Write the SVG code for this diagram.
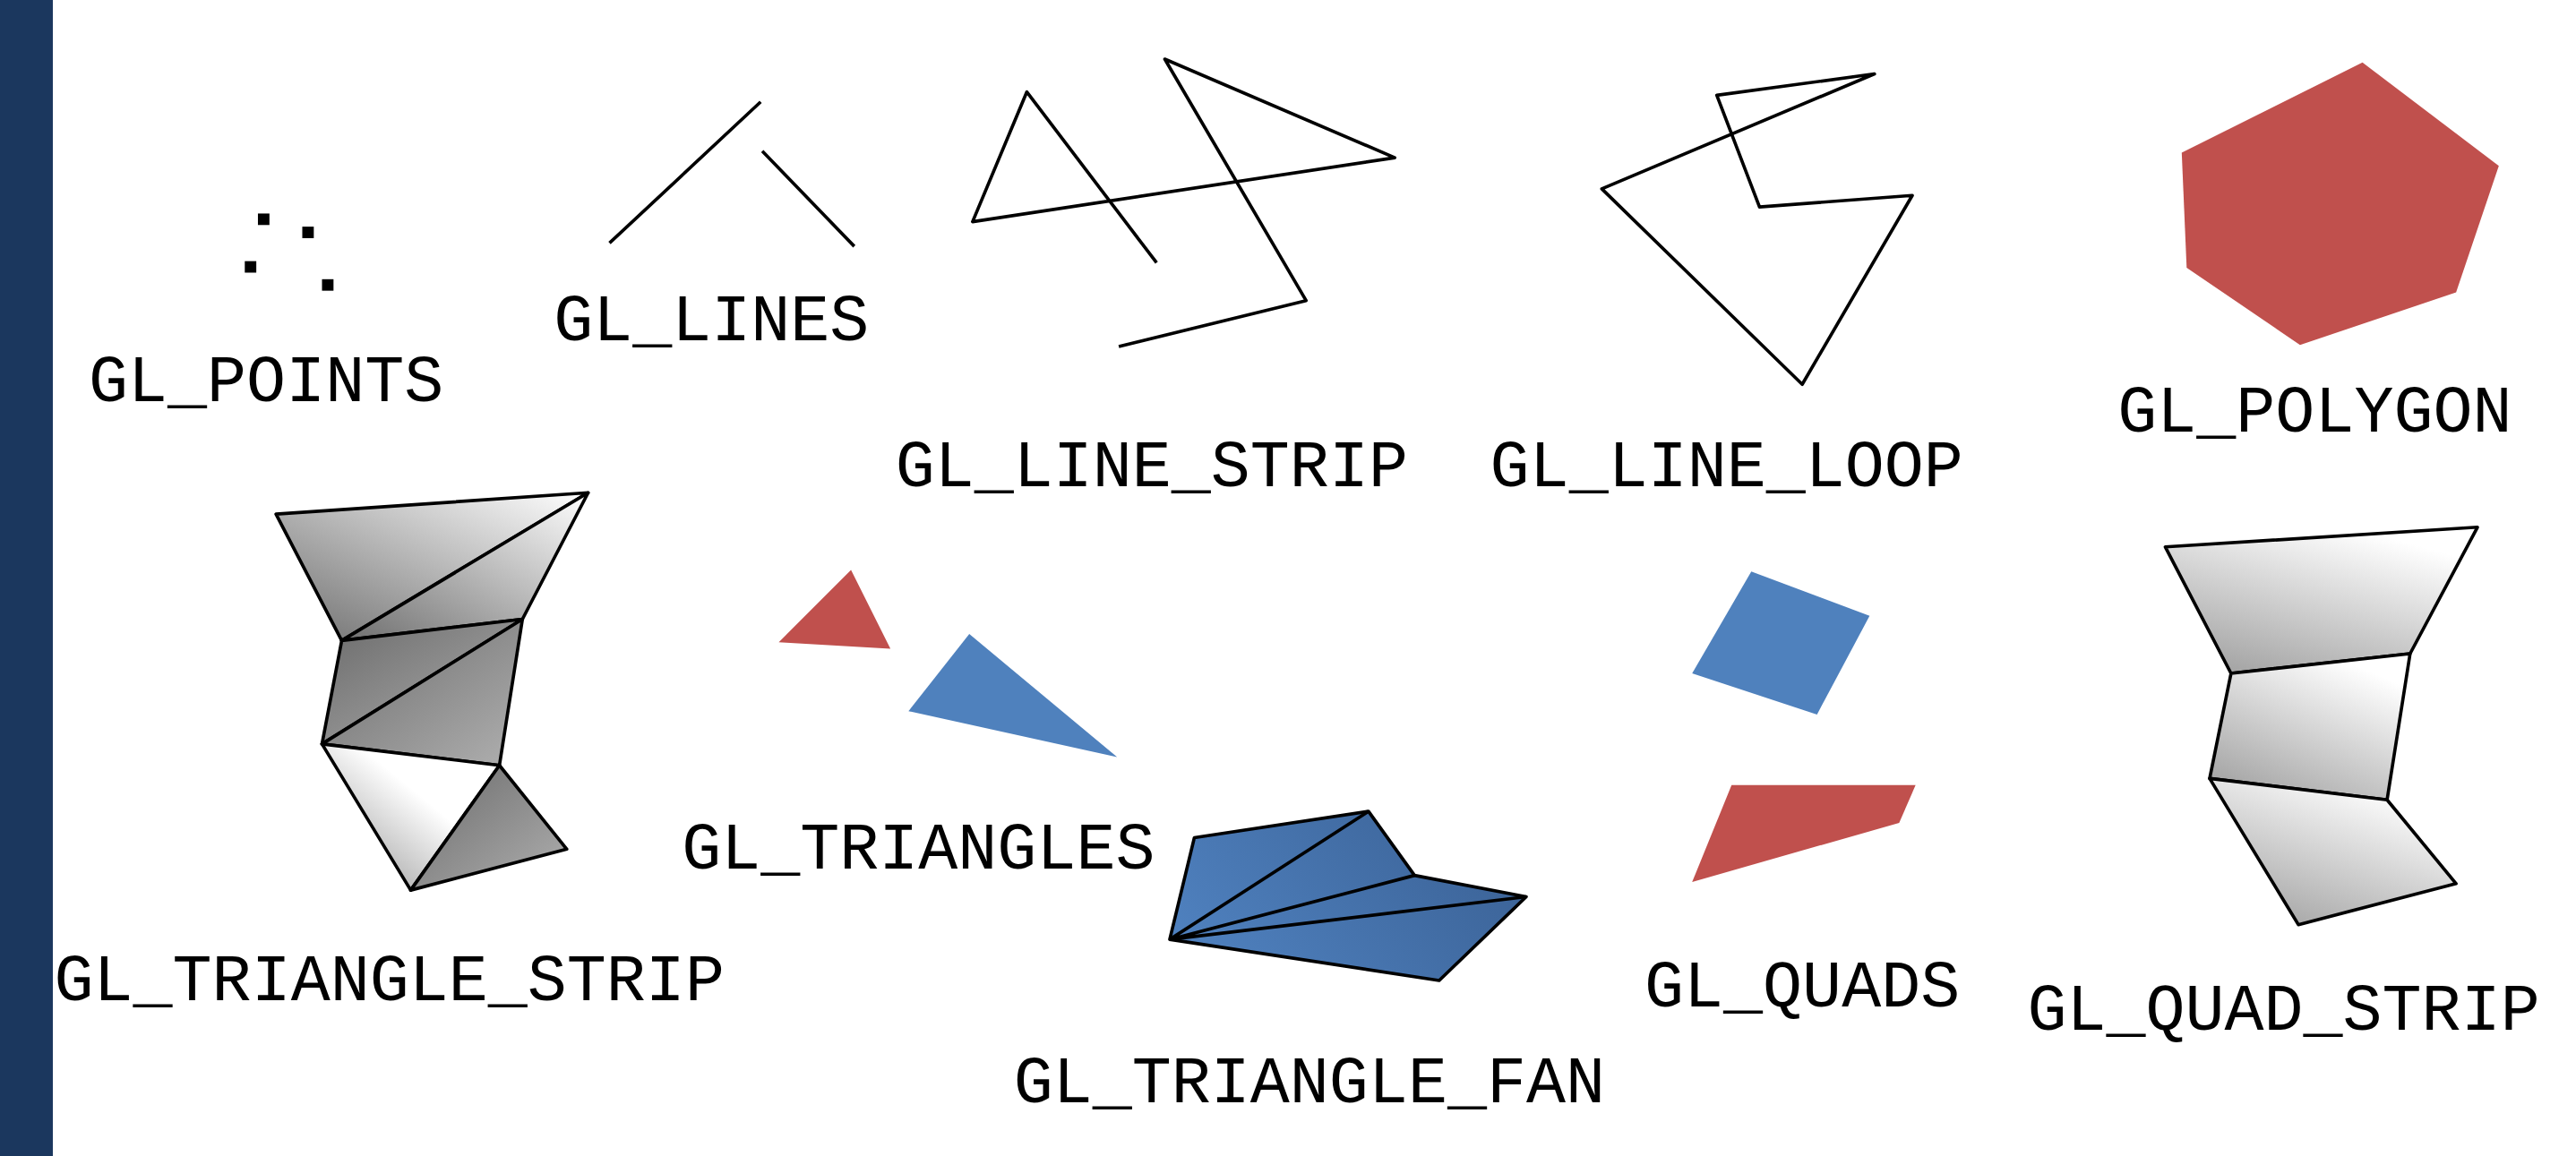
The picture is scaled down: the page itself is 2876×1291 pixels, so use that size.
<svg xmlns="http://www.w3.org/2000/svg" width="2876" height="1291" viewBox="0 0 2876 1291">
<style>
.t{font-family:"Liberation Mono","Courier New",monospace;font-size:40px;fill:#000}
.s{fill:none;stroke:#000;stroke-width:2;stroke-linejoin:round}
.f{stroke:#000;stroke-width:2;stroke-linejoin:round}
</style>
<defs>
<linearGradient id="g1" x1="0" y1="1" x2="1" y2="0"><stop offset="0" stop-color="#6e6e6e"/><stop offset="1" stop-color="#ffffff"/></linearGradient>
<linearGradient id="g2" x1="0" y1="0" x2="1" y2="1"><stop offset="0" stop-color="#6a6a6a"/><stop offset="1" stop-color="#b0b0b0"/></linearGradient>
<linearGradient id="g3" x1="0" y1="1" x2="1" y2="0"><stop offset="0" stop-color="#8a8a8a"/><stop offset="0.6" stop-color="#ffffff"/></linearGradient>
<linearGradient id="gf" x1="0" y1="0.7" x2="1" y2="0.3"><stop offset="0" stop-color="#4f81bf"/><stop offset="1" stop-color="#3b6296"/></linearGradient>
<linearGradient id="gq" x1="0" y1="1" x2="0.6" y2="0"><stop offset="0" stop-color="#9a9a9a"/><stop offset="1" stop-color="#ffffff"/></linearGradient>
</defs>
<rect x="0" y="0" width="2876" height="1291" fill="#fff"/>
<rect x="0" y="0" width="59" height="1291" fill="#1b375e"/>
<g transform="scale(1.8342)">
<g id="points"><rect x="157" y="130" width="7" height="7"/><rect x="184" y="138" width="7" height="7"/><rect x="149" y="159" width="7" height="7"/><rect x="196" y="170" width="7" height="7"/><text class="t" x="54" y="244">GL_POINTS</text></g>
<g id="lines"><path class="s" d="M371 148L463 62M464 92L520 150"/><text class="t" x="337" y="207">GL_LINES</text></g>
<g id="linestrip"><path class="s" d="M704 160L625 56L592 135L849 96L709 36L795 183L681 211"/><text class="t" x="545" y="296">GL_LINE_STRIP</text></g>
<g id="lineloop"><path class="s" d="M1045 58L1141 45L975 115L1097 234L1164 119L1071 126Z"/><text class="t" x="907" y="296">GL_LINE_LOOP</text></g>
<g id="polygon"><polygon points="1438,38 1521,101 1495,178 1400,210 1331,163 1328,93" fill="#c0504d"/><text class="t" x="1289" y="263">GL_POLYGON</text></g>
<g id="tristrip">
<polygon class="f" fill="url(#g1)" points="168,313 358,300 208,390"/>
<polygon class="f" fill="url(#g1)" points="358,300 208,390 318,377"/>
<polygon class="f" fill="url(#g2)" points="208,390 318,377 196,453"/>
<polygon class="f" fill="url(#g2)" points="318,377 196,453 304,466"/>
<polygon class="f" fill="url(#g3)" points="196,453 304,466 250,542"/>
<polygon class="f" fill="url(#g2)" points="304,466 250,542 345,517"/>
<text class="t" x="33" y="609">GL_TRIANGLE_STRIP</text></g>
<g id="triangles"><polygon points="518,347 474,391 542,395" fill="#c0504d"/><polygon points="590,386 553,433 680,461" fill="#4f81bd"/><text class="t" x="415" y="529">GL_TRIANGLES</text></g>
<g id="trifan"><polygon class="f" fill="url(#gf)" points="712,572 727,510 833,494 861,533 929,546 876,597"/><path class="s" d="M712 572L833 494M712 572L861 533M712 572L929 546"/><text class="t" x="617" y="671">GL_TRIANGLE_FAN</text></g>
<g id="quads"><polygon points="1066,348 1138,375 1106,435 1030,410" fill="#4f81bd"/><polygon points="1054,478 1166,478 1156,501 1030,537" fill="#c0504d"/><text class="t" x="1001" y="613">GL_QUADS</text></g>
<g id="quadstrip"><polygon class="f" fill="url(#gq)" points="1318,333 1508,321 1467,398 1358,410"/><polygon class="f" fill="url(#gq)" points="1358,410 1467,398 1453,487 1345,474"/><polygon class="f" fill="url(#gq)" points="1345,474 1453,487 1495,538 1399,563"/><text class="t" x="1234" y="627">GL_QUAD_STRIP</text></g>
</g>
<g id="connectors"/>
</svg>
